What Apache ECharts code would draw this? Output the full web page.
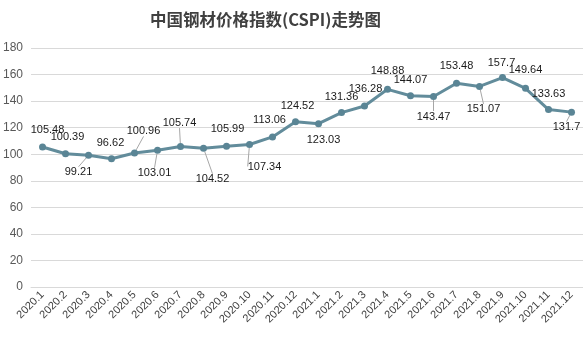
<!DOCTYPE html>
<html><head><meta charset="utf-8">
<script src="https://cdn.jsdelivr.net/npm/echarts@6/dist/echarts.min.js"></script>
<style>html,body{margin:0;padding:0;background:#fff}#c{width:583px;height:342px}</style>
</head><body><div id="c"></div>
<script>
var categories = ['2020.1','2020.2','2020.3','2020.4','2020.5','2020.6','2020.7','2020.8','2020.9','2020.10','2020.11','2020.12','2021.1','2021.2','2021.3','2021.4','2021.5','2021.6','2021.7','2021.8','2021.9','2021.10','2021.11','2021.12'];
var cspi = [105.48,100.39,99.21,96.62,100.96,103.01,105.74,104.52,105.99,107.34,113.06,124.52,123.03,131.36,136.28,148.88,144.07,143.47,153.48,151.07,157.7,149.64,133.63,131.7];
var yTicks = [0,20,40,60,80,100,120,140,160,180];
// label layout (offsets of label centre from point, leader line flag)
var labelDx = [5,2,-10,-1,9,-3,-1,9,1,15,-3,2,5,0,1,0,0,0,0,4,-1,0,0,-5];
var labelDy = [-17,-17,17,-16,-22,23,-24,31,-17,22,-17,-16,16,-16,-17,-18,-16,20,-17,23,-15,-18,-16,15];
var leader = [0,0,1,0,1,1,1,1,0,1,0,0,0,0,0,0,0,1,0,1,0,0,0,1];

var chart = echarts.init(document.getElementById('c'));
chart.setOption({
  animation: false,
  title: {
    text: '中国钢材价格指数(CSPI)走势图',
    left: 150, top: 11, padding: 0,
    textStyle: {fontFamily: 'Noto Sans CJK SC', fontSize: 16.5, fontWeight: 'bold', color: '#404040'}
  },
  grid: {left: 30, right: 0, top: 48, bottom: 55, containLabel: false},
  xAxis: {
    type: 'category', data: categories, boundaryGap: true,
    axisLine: {show: true, lineStyle: {color: '#d9d9d9'}},
    axisTick: {show: false},
    axisLabel: {rotate: 45, margin: 6, fontSize: 11, color: '#404040', fontFamily: 'Liberation Sans', interval: 0}
  },
  yAxis: {
    type: 'value', min: yTicks[0], max: yTicks[yTicks.length-1], interval: 20,
    axisLine: {show: false}, axisTick: {show: false},
    splitLine: {lineStyle: {color: '#d9d9d9', width: 1}},
    axisLabel: {fontSize: 12, color: '#595959', margin: 8, fontFamily: 'Liberation Sans'}
  },
  series: [{
    type: 'line',
    data: cspi.map(function(v, i){
      return {value: v, labelLine: {show: !!leader[i]}};
    }),
    symbol: 'circle', symbolSize: 7,
    lineStyle: {color: '#628c9b', width: 3},
    itemStyle: {color: '#5a8595'},
    label: {show: true, position: 'inside', fontSize: 11, color: '#1a1a1a', fontFamily: 'Liberation Sans'},
    labelLine: {show: true, lineStyle: {color: '#a6a6a6', width: 1}},
    labelLayout: function(p){
      return {dx: labelDx[p.dataIndex], dy: labelDy[p.dataIndex]};
    }
  }]
});
</script></body></html>
